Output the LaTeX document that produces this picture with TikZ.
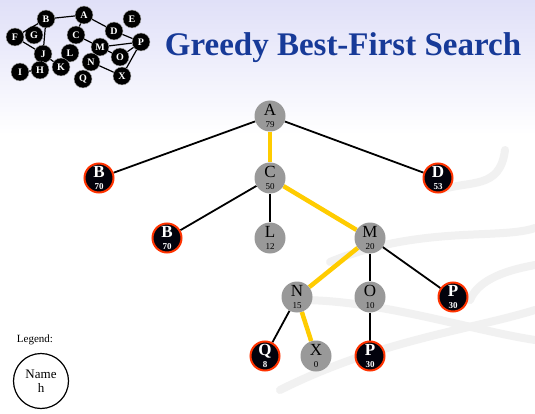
\documentclass[tikz,border=0pt]{standalone}
\usepackage{fontspec}
\setmainfont{Liberation Serif}
\usetikzlibrary{calc,positioning,backgrounds}
\definecolor{titleblue}{HTML}{173A98}
\definecolor{nodegray}{HTML}{999999}
\definecolor{nodeblack}{HTML}{02020C}
\definecolor{nodered}{HTML}{FF3300}
\definecolor{pathgold}{HTML}{FFCC00}
\definecolor{topbg}{HTML}{E0E0F8}
\tikzstyle{every node}+=[inner sep=0pt]
\tikzstyle{seen}=[circle,fill=nodegray,minimum size=31pt,text=black,align=center]
\tikzstyle{fringe}=[circle,fill=nodeblack,draw=nodered,line width=2pt,minimum size=29pt,text=white,align=center,font=\bfseries]
\tikzstyle{tedge}=[black,line width=1.8pt]
\tikzstyle{chosen}=[pathgold,line width=4.5pt]
\tikzstyle{mini}=[circle,fill=black,draw=gray!60,line width=0.4pt,minimum size=18pt,text=white,font=\fontsize{10}{10}\selectfont\bfseries]
\tikzstyle{swoosh}=[gray!11,line width=8pt,line cap=round]
\newcommand{\lab}[2]{{\fontsize{17}{12}\selectfont #1}\\{\fontsize{9}{9}\selectfont #2}}
\newcommand{\drawedges}[2][\empty]{
	\foreach \a/\b in {#2}{
		\draw[#1] (\a) -- (\b);
	}
}

\begin{document}
\begin{tikzpicture}[x=1pt,y=-1pt]
\useasboundingbox (0,0) rectangle (535,414);
% background
\begin{scope}[on background layer]
\fill[white] (0,0) rectangle (535,414);
\shade[top color=topbg,bottom color=white] (0,0) rectangle (535,135);
\draw[swoosh] (330,262) .. controls (420,225) and (500,240) .. (535,228);
\draw[swoosh] (300,300) .. controls (380,300) and (470,330) .. (535,340);
\draw[swoosh] (470,300) .. controls (480,275) and (520,268) .. (535,265);
\draw[swoosh] (280,390) .. controls (380,340) and (470,330) .. (535,310);
\draw[swoosh] (440,190) .. controls (470,180) and (500,190) .. (505,150);
\end{scope}

% small map
\begin{scope}
\node[mini] (mB) at (46,19) {B};
\node[mini] (mA) at (84,15) {A};
\node[mini] (mE) at (132,19) {E};
\node[mini] (mD) at (114,31) {D};
\node[mini] (mF) at (15,37) {F};
\node[mini] (mG) at (34,35) {G};
\node[mini] (mC) at (76,35) {C};
\node[mini] (mP) at (141,42) {P};
\node[mini] (mM) at (100,47) {M};
\node[mini] (mJ) at (43,54) {J};
\node[mini] (mL) at (70,53) {L};
\node[mini] (mO) at (120,57) {O};
\node[mini] (mN) at (91,62) {N};
\node[mini] (mK) at (61,67) {K};
\node[mini] (mH) at (40,70) {H};
\node[mini] (mI) at (20,72) {I};
\node[mini] (mQ) at (83,79) {Q};
\node[mini] (mX) at (122,76) {X};
\end{scope}
\drawedges[black,line width=1.2pt]{mB/mA,mB/mF,mB/mJ,mF/mJ,mJ/mH,mH/mI,mJ/mK,mA/mC,mA/mD,mD/mP,mC/mM,mM/mP,mM/mO,mO/mP,mP/mX,mN/mX}

\node[font=\fontsize{33}{33}\selectfont\bfseries,text=titleblue] (title) at (343,48) {Greedy Best-First Search};

% search tree
\node[seen] (A) at (270,116) {\lab{A}{79}};
\node[fringe] (B1) at (99,178) {\lab{B}{70}};
\node[seen] (C) at (270,178) {\lab{C}{50}};
\node[fringe] (D) at (438,178) {\lab{D}{53}};
\node[fringe] (B2) at (167,238) {\lab{B}{70}};
\node[seen] (L) at (270,238) {\lab{L}{12}};
\node[seen] (M) at (370,238) {\lab{M}{20}};
\node[seen] (N) at (297,297) {\lab{N}{15}};
\node[seen] (O) at (370,297) {\lab{O}{10}};
\node[fringe] (P1) at (453,297) {\lab{P}{30}};
\node[fringe] (Q) at (265,356) {\lab{Q}{8}};
\node[seen] (X) at (316,356) {\lab{X}{0}};
\node[fringe] (P2) at (370,356) {\lab{P}{30}};

\begin{scope}[on background layer]
\drawedges[tedge]{A/B1,A/D,C/B2,C/L,M/O,M/P1,N/Q,O/P2}
\drawedges[chosen]{A/C,C/M,M/N,N/X}
\end{scope}

% legend
\node[font=\fontsize{11}{11}\selectfont] (legtxt) at (35,340) {Legend:};
\node[circle,draw,line width=1.2pt,fill=white,minimum size=55pt,align=center,font=\fontsize{13}{14}\selectfont] (leg) at (41,381) {Name\\h};
\end{tikzpicture}
\end{document}
